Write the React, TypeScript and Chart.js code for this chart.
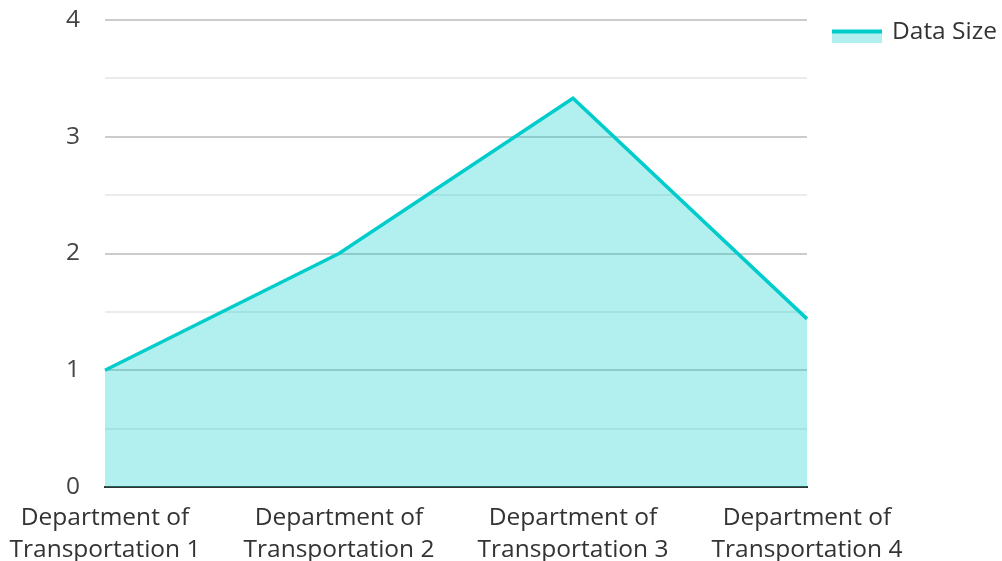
import React, { useEffect, useRef } from "react";
import { Chart, registerables } from "chart.js";

Chart.register(...registerables);

const categories: string[][] = [
  ["Department of", "Transportation 1"],
  ["Department of", "Transportation 2"],
  ["Department of", "Transportation 3"],
  ["Department of", "Transportation 4"],
];
const seriesLabel = "Data Size";
const dataSize: number[] = [1, 2, 3.33, 1.44];
const yTicks = { min: 0, max: 4, step: 0.5 };

const LINE = "rgb(0,204,204)";
const FILL = "rgba(0,204,204,0.3)";
const FONT = "'Open Sans', 'Noto Sans', sans-serif";
const FSIZE = 24.5;

const legendPlugin = {
  id: "customLegend",
  afterDraw(chart: any) {
    const { ctx, chartArea } = chart;
    const ds = chart.data.datasets[0];
    const x0 = chartArea.right + 25;
    const yTop = 30;
    ctx.save();
    ctx.fillStyle = FILL;
    ctx.fillRect(x0, yTop + 3, 50, 10);
    ctx.strokeStyle = LINE;
    ctx.lineWidth = 4;
    ctx.beginPath();
    ctx.moveTo(x0, yTop + 1.5);
    ctx.lineTo(x0 + 50, yTop + 1.5);
    ctx.stroke();
    ctx.fillStyle = "#333";
    ctx.font = `${FSIZE}px ${FONT}`;
    ctx.textBaseline = "middle";
    ctx.textAlign = "left";
    ctx.fillText(ds.label, x0 + 60, 32);
    ctx.restore();
  },
};

export default function App() {
  const ref = useRef<HTMLCanvasElement>(null);
  useEffect(() => {
    if (!ref.current) return;
    const chart = new Chart(ref.current, {
      type: "line",
      data: {
        labels: categories,
        datasets: [
          {
            label: seriesLabel,
            data: dataSize,
            borderColor: LINE,
            backgroundColor: FILL,
            borderWidth: 3.5,
            fill: "origin",
            pointRadius: 0,
            tension: 0,
          },
        ],
      },
      options: {
        animation: false,
        responsive: false,
        maintainAspectRatio: false,
        layout: { padding: { top: 20, right: 195, left: 0, bottom: 0 } },
        plugins: {
          legend: { display: false },
          tooltip: { enabled: false },
        },
        scales: {
          x: {
            offset: false,
            afterFit: (s: any) => {
              s.height = 74;
              s.paddingLeft = 0;
              s.paddingRight = 0;
              s.paddingTop = 0;
              s.paddingBottom = 0;
            },
            grid: { display: false, drawTicks: false },
            border: { display: true, color: "#333", width: 2 },
            ticks: {
              color: "#333",
              padding: 15.5,
              maxRotation: 0,
              autoSkip: false,
              font: { family: FONT, size: FSIZE, lineHeight: 1.28 },
            },
          },
          y: {
            min: yTicks.min,
            max: yTicks.max,
            afterFit: (s: any) => {
              s.width = 105;
              s.paddingTop = 0;
              s.paddingBottom = 0;
              s.paddingLeft = 0;
              s.paddingRight = 0;
            },
            border: { display: false },
            grid: {
              drawTicks: false,
              color: (c: any) =>
                c.tick && c.tick.value % 1 === 0 ? "#cccccc" : "#ebebeb",
              lineWidth: 2,
            },
            ticks: {
              stepSize: yTicks.step,
              color: "#444",
              padding: 25,
              font: { family: FONT, size: FSIZE },
              callback: (v: any) => (Number(v) % 1 === 0 ? String(v) : ""),
            },
          },
        },
      },
      plugins: [legendPlugin],
    });
    return () => chart.destroy();
  }, []);
  return (
    <div style={{ position: "fixed", left: 0, top: 0, width: 1002, height: 561 }}>
      <canvas ref={ref} width={1002} height={561} style={{ display: "block" }} />
    </div>
  );
}
